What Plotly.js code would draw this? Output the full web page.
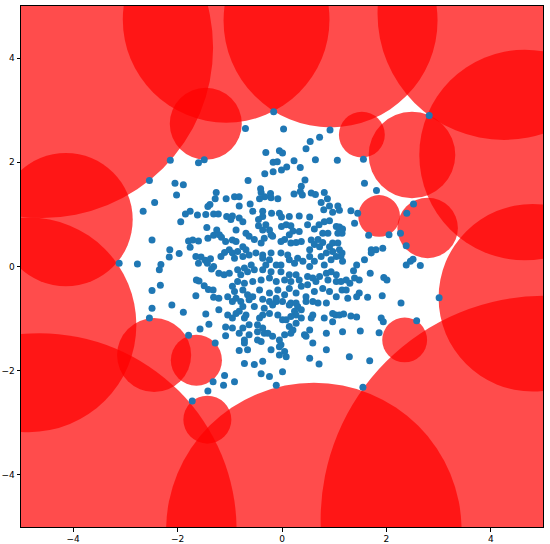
<!DOCTYPE html>
<html>
<head>
<meta charset="utf-8">
<script src="https://cdn.plot.ly/plotly-3.0.1.min.js"></script>
<style>
  body { margin: 0; background: #fff; }
  #chart { width: 550px; height: 544px; }
</style>
</head>
<body>
<div id="chart"></div>
<script>
// scatter points
var ptX = [
  -2.14,-1.60,-1.49,-2.54,-2.05,-1.89,-2.02,-1.26,-1.28,-1.07,
  -0.16,-0.70,0.03,0.92,0.54,0.72,0.46,-0.05,0.01,-0.31,0.64,1.06,0.23,-0.17,-0.09,0.09,-0.01,0.35,-0.17,-0.33,
  -0.65,0.44,0.37,-0.41,-0.40,-0.22,0.35,0.23,0.56,0.64,0.81,0.39,-0.91,-0.82,-0.33,-0.21,-0.43,-0.08,0.87,
  2.82,1.56,1.58,1.81,
  -2.44,-2.66,-1.85,-1.76,-1.62,-1.46,-1.31,-1.22,-1.38,-1.42,-1.94,-1.06,-1.44,-1.25,-1.31,-1.20,-1.16,-1.08,-1.42,-2.49,
  -1.79,-1.71,-1.60,-1.76,-2.15,-1.97,-2.16,-1.10,-1.17,-1.65,-1.55,-1.47,-1.37,-1.60,-1.43,-1.31,-1.35,-2.77,-3.12,-2.32,
  -2.35,-1.21,-1.11,-1.64,-1.59,-2.33,-2.49,-1.49,-1.41,-1.32,-1.65,-1.31,-1.21,-1.04,
  -0.82,-0.61,-0.56,-0.37,-0.20,-0.05,-0.01,0.14,0.33,0.53,0.75,0.80,0.91,1.07,-0.95,-0.82,-0.75,-0.37,-0.45,-0.31,
  -0.98,-0.88,-0.69,-0.63,-0.45,-0.37,-0.24,-0.21,-0.01,0.08,0.17,0.21,0.14,0.05,0.33,0.49,0.62,0.71,0.81,0.91,
  0.97,1.04,1.07,0.88,0.78,0.56,0.69,0.78,-0.95,-0.88,-0.75,-0.69,-0.53,-0.40,-0.34,-0.18,-0.02,0.17,0.27,0.37,
  0.53,0.62,0.72,0.91,0.97,1.07,0.97,-1.01,-0.95,-0.85,-0.91,-0.75,-0.63,-0.50,-0.37,-0.24,-0.21,-0.02,0.11,0.14,
  0.30,0.40,0.24,-0.02,-0.11,-0.31,-0.37,-0.59,-0.72,-0.85,0.53,0.62,0.75,0.81,0.94,1.04,0.85,0.53,-1.01,-0.79,
  -0.66,-0.53,-0.37,-0.21,-0.02,0.14,0.27,0.33,0.49,0.59,0.72,0.85,0.94,1.04,1.04,0.88,0.65,0.49,0.37,0.17,
  0.05,-0.11,-0.24,-0.40,-0.56,-0.72,-0.85,-0.95,-0.91,-0.75,-0.66,-0.56,-0.43,-0.24,-0.08,0.05,0.14,0.27,0.46,0.62,
  0.78,0.91,1.04,-0.11,-0.37,-0.88,-0.63,
  1.10,1.32,1.45,2.52,2.39,1.39,1.10,1.15,1.16,1.66,2.05,2.27,2.38,1.71,1.80,1.93,1.71,1.10,1.15,1.13,
  1.58,2.51,2.46,2.38,2.65,1.43,1.37,1.69,1.16,1.39,1.48,1.95,2.01,1.23,1.30,1.13,1.15,1.23,1.48,1.43,
  1.92,3.01,1.26,1.64,
  -2.49,-2.11,-1.89,-1.46,-1.21,-2.54,-1.57,-1.40,-1.79,-1.08,-1.08,-1.28,-1.10,-1.32,-1.12,-1.42,-1.04,-1.72,
  -0.95,-0.79,-0.24,-0.11,0.01,0.17,0.27,0.46,0.59,0.69,0.85,-0.75,-0.53,-0.34,-0.18,0.14,0.30,0.37,0.24,0.27,
  0.17,0.01,-0.08,-0.24,-0.37,-0.43,-0.69,-0.82,-0.88,-0.95,-0.72,-0.63,-0.75,-0.95,-0.47,-0.37,-0.34,-0.27,-0.47,-0.63,
  -0.82,-0.72,-0.72,-0.47,-0.40,-0.05,-0.02,-0.05,0.05,0.08,-0.05,-0.21,-0.66,-0.82,-0.72,-0.53,-0.37,0.01,-0.40,-0.24,
  -0.11,-0.91,0.14,0.21,0.17,0.43,0.46,0.53,0.59,0.59,0.56,0.37,0.85,0.85,0.81,0.97,1.03,0.97,0.53,0.71,
  -0.18,0.05,0.08,0.27,
  2.28,1.10,1.18,1.32,1.43,1.90,1.94,2.58,1.16,1.50,1.86,1.29,1.68,1.55
];
var ptY = [
  2.04,1.99,2.05,1.65,1.60,1.57,1.37,1.42,1.30,1.30,
  2.97,2.65,2.64,2.62,2.40,2.48,2.26,2.22,2.18,2.19,2.05,2.04,2.03,2.00,2.01,1.91,1.85,1.90,1.82,1.78,
  1.65,1.66,1.54,1.49,1.42,1.40,1.44,1.39,1.41,1.38,1.42,1.37,1.34,1.34,1.34,1.32,1.30,1.30,1.30,
  2.90,2.06,1.60,1.46,
  1.23,1.06,1.01,1.06,0.99,1.00,1.01,1.01,1.19,1.15,0.86,0.96,0.75,0.70,0.60,0.61,0.56,0.48,0.54,0.51,
  0.49,0.51,0.49,0.37,0.32,0.25,0.18,0.27,0.19,0.19,0.18,0.12,0.15,0.06,0.06,0.00,-0.05,0.05,0.06,0.04,
  -0.06,-0.13,-0.16,-0.26,-0.28,-0.36,-0.46,-0.37,-0.44,-0.45,-0.56,-0.59,-0.61,-0.58,
  1.16,1.20,1.06,1.06,1.02,1.02,0.95,0.96,0.97,0.95,1.23,1.09,1.16,1.16,0.97,0.93,0.86,0.96,0.90,0.80,
  0.90,0.70,0.64,0.58,0.78,0.70,0.70,0.61,0.77,0.80,0.78,0.68,0.61,0.52,0.67,0.80,0.72,0.80,0.86,0.88,
  1.04,0.77,0.64,0.64,0.64,0.51,0.52,0.46,0.51,0.48,0.38,0.32,0.52,0.45,0.54,0.58,0.48,0.45,0.46,0.48,
  0.32,0.42,0.38,0.38,0.45,0.45,0.29,0.32,0.26,0.29,0.16,0.19,0.22,0.26,0.22,0.13,0.26,0.26,0.22,0.13,
  0.16,0.10,0.06,0.03,0.03,0.03,0.16,0.03,-0.03,-0.06,0.19,0.10,0.19,0.03,0.13,0.19,0.26,0.00,-0.13,-0.16,
  -0.10,-0.06,-0.06,-0.10,-0.10,-0.16,-0.16,-0.26,-0.19,-0.22,-0.19,-0.13,-0.10,-0.16,-0.29,-0.26,-0.29,-0.35,-0.38,-0.29,
  -0.26,-0.29,-0.22,-0.26,-0.29,-0.32,-0.29,-0.38,-0.48,-0.45,-0.54,-0.58,-0.45,-0.51,-0.45,-0.54,-0.42,-0.51,-0.58,-0.48,
  -0.42,-0.48,-0.58,-0.61,-0.63,-0.61,-0.64,
  1.08,1.07,1.02,1.20,1.02,0.83,0.76,0.64,0.72,0.60,0.61,0.64,0.40,0.32,0.32,0.35,0.26,0.32,0.26,0.20,
  0.13,0.14,0.10,0.03,0.02,0.03,-0.08,-0.13,0.10,-0.22,-0.26,-0.21,-0.26,-0.26,-0.32,-0.29,-0.45,-0.45,-0.51,-0.58,
  -0.56,-0.60,-0.61,-0.59,
  -0.80,-0.74,-0.88,-0.91,-0.83,-0.99,-1.20,-1.11,-1.32,-1.16,-1.33,-1.47,-2.09,-2.21,-2.28,-2.39,-0.93,-2.58,
  -0.67,-0.67,-0.67,-0.67,-0.67,-0.70,-0.70,-0.67,-0.67,-0.70,-0.70,-0.77,-0.77,-0.80,-0.74,-0.74,-0.77,-0.83,-0.86,-0.93,
  -0.96,-1.02,-0.93,-0.90,-0.93,-0.99,-0.93,-0.86,-0.90,-0.99,-0.99,-1.12,-1.18,-1.18,-1.12,-1.18,-1.28,-1.28,-1.25,-1.31,
  -1.28,-1.41,-1.47,-1.41,-1.44,-1.41,-1.50,-1.54,-1.63,-1.73,-1.70,-1.60,-1.60,-1.61,-1.86,-1.88,-1.82,-2.02,-2.06,-2.11,
  -2.28,-2.21,-1.15,-1.22,-1.28,-1.31,-1.34,-1.22,-1.47,-0.93,-0.99,-0.99,-1.28,-1.60,-0.99,-0.90,-0.93,-1.06,-1.76,-1.87,
  -1.34,-1.31,-1.02,-1.09,
  -0.70,-0.93,-0.91,-0.95,-0.97,-0.99,-1.06,-1.04,-1.25,-1.24,-1.27,-1.73,-1.81,-2.32
];

// empty circles: centre x, centre y, radius
var circX = [-4.59,-4.14,-1.07,0.93,-1.46,1.53,2.49,4.25,4.65,1.86,2.79,4.80,2.35,5.04,0.61,-1.43,-1.64,-2.45,-4.85,-4.65];
var circY = [4.20,0.90,4.74,4.72,2.74,2.53,2.14,4.85,2.14,0.97,0.74,-0.60,-1.41,-4.86,-5.06,-2.94,-1.80,-1.70,-1.12,-5.06];
var circR = [3.27,1.28,1.98,2.05,0.69,0.44,0.83,2.42,2.02,0.40,0.58,1.80,0.43,4.30,2.83,0.46,0.49,0.71,2.06,3.78];

var shapes = circX.map(function (cx, i) {
  return {
    type: "circle", xref: "x", yref: "y", layer: "below",
    x0: cx - circR[i], x1: cx + circR[i],
    y0: circY[i] - circR[i], y1: circY[i] + circR[i],
    fillcolor: "rgba(255,0,0,0.7)",
    line: {width: 0}
  };
});

var data = [{
  x: ptX,
  y: ptY,
  mode: "markers",
  type: "scatter",
  marker: {color: "#1f77b4", size: 7}
}];

var axisStyle = {
  range: [-5, 5],
  tickvals: [-4, -2, 0, 2, 4],
  ticks: "outside",
  ticklen: 3.5,
  tickcolor: "#000",
  showgrid: false,
  zeroline: false,
  showline: true,
  mirror: true,
  linecolor: "#000",
  linewidth: 1,
  tickfont: {family: "DejaVu Sans", size: 9, color: "#000"}
};

var layout = {
  width: 550,
  height: 544,
  margin: {l: 21, r: 7, t: 6, b: 17},
  paper_bgcolor: "#fff",
  plot_bgcolor: "#fff",
  showlegend: false,
  xaxis: Object.assign({}, axisStyle),
  yaxis: Object.assign({}, axisStyle),
  shapes: shapes
};

Plotly.newPlot("chart", data, layout, {displayModeBar: false, staticPlot: true});
</script>
</body>
</html>
